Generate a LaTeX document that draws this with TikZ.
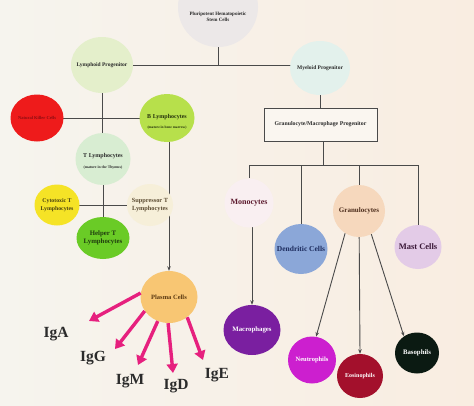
\documentclass[tikz,border=0pt]{standalone}
\usepackage{fontspec}
\setmainfont{Liberation Serif}
\usetikzlibrary{shapes.geometric,arrows.meta}
\pgfdeclarelayer{bg}
\pgfdeclarelayer{lines}
\pgfsetlayers{bg,lines,main}
\definecolor{linec}{HTML}{4A4A4A}
\definecolor{pinkc}{HTML}{E6207E}
\definecolor{igc}{HTML}{2B2B2B}
\definecolor{ink}{HTML}{2A2A2A}
\begin{document}
\begin{tikzpicture}[x=1pt,y=-1pt,
  cell/.style={ellipse, inner sep=0pt, draw=none},
  lab/.style={align=center, inner sep=0pt, text=ink},
  fs/.style={font=\bfseries\fontsize{#1}{#1}\selectfont},
  link/.style={draw=linec, line width=0.9pt},
  arr/.style={link, -{Stealth[length=4.5pt,width=3.5pt]}},
  pinkarr/.style={draw=pinkc, line width=3.4pt, -{Triangle[length=9pt,width=11pt]}},
  ig/.style={font=\bfseries\fontsize{15.5}{15.5}\selectfont, text=igc, inner sep=0pt}]
\useasboundingbox (0,0) rectangle (474,405);
\begin{pgfonlayer}{bg}
  \fill[left color={rgb,255:red,246;green,244;blue,238}, right color={rgb,255:red,249;green,237;blue,225}] (0,0) rectangle (474,405);
\end{pgfonlayer}

% top
\node[cell, fill={rgb,255:red,236;green,232;blue,232}, minimum width=80, minimum height=80] (stem) at (218,7) {};
\node[lab, fs=5] (stemtxt) at (218,17) {Pluripotent Hematopoietic\\[1pt]Stem Cells};
\node[cell, fill={rgb,255:red,228;green,239;blue,203}, minimum width=62, minimum height=56,
  label={[lab, fs=5.5]center:Lymphoid Progenitor}] (lymph) at (102,65) {};
\node[cell, fill={rgb,255:red,227;green,241;blue,236}, minimum width=60, minimum height=54,
  label={[lab, fs=5.5]center:Myeloid Progenitor}] (myel) at (320,68) {};
\node[draw=linec, line width=0.9pt, fill={rgb,255:red,250;green,246;blue,240}, minimum width=113, minimum height=33, inner sep=0pt, lab, fs=5.8] (gm) at (320.5,124.5) {Granulocyte/Macrophage Progenitor};

% myeloid branch
\coordinate (bus) at (323,165);
\node[cell, fill={rgb,255:red,249;green,239;blue,241}, minimum width=49, minimum height=49,
  label={[lab, fs=8, text={rgb,255:red,92;green,26;blue,46}]center:Monocytes}] (mono) at (249,203) {};
\node[cell, fill={rgb,255:red,139;green,167;blue,216}, minimum width=53, minimum height=50,
  label={[lab, fs=7.5, text={rgb,255:red,27;green,42;blue,92}]center:Dendritic Cells}] (dend) at (301,249) {};
\node[cell, fill={rgb,255:red,246;green,216;blue,189}, minimum width=52, minimum height=52,
  label={[lab, fs=7, text={rgb,255:red,75;green,43;blue,26}]center:Granulocytes}] (gran) at (359,211) {};
\node[cell, fill={rgb,255:red,227;green,203;blue,231}, minimum width=47, minimum height=44,
  label={[lab, fs=8.5, text={rgb,255:red,59;green,24;blue,56}]center:Mast Cells}] (mast) at (418,247) {};
\node[cell, fill={rgb,255:red,122;green,31;blue,160}, minimum width=57, minimum height=50,
  label={[lab, fs=6.8, text=white]center:Macrophages}] (macro) at (252,330) {};
\node[cell, fill={rgb,255:red,204;green,31;blue,207}, minimum width=48, minimum height=47,
  label={[lab, fs=6.5, text=white]center:Neutrophils}] (neut) at (312,360) {};
\node[cell, fill={rgb,255:red,163;green,16;blue,44}, minimum width=46, minimum height=44,
  label={[lab, fs=6, text=white]center:Eosinophils}] (eos) at (360,376) {};
\node[cell, fill={rgb,255:red,11;green,26;blue,18}, minimum width=44, minimum height=41,
  label={[lab, fs=6.8, text=white]center:Basophils}] (baso) at (417,353) {};

% lymphoid branch
\node[cell, fill={rgb,255:red,238;green,27;blue,27}, minimum width=53, minimum height=47,
  label={[lab, fs=4.5, text={rgb,255:red,140;green,13;blue,18}]center:Natural Killer Cells}] (nk) at (37,118) {};
\node[cell, fill={rgb,255:red,183;green,224;blue,75}, minimum width=55, minimum height=48,
  label={[lab, fs=6, yshift=-4pt, text={rgb,255:red,36;green,48;blue,12}]center:{B Lymphocytes\\[4pt]{\fontsize{3.6}{3.6}\selectfont (mature in bone marrow)}}}] (blym) at (167,118) {};
\node[cell, fill={rgb,255:red,216;green,237;blue,210}, minimum width=55, minimum height=52,
  label={[lab, fs=6, yshift=-2pt]center:{T Lymphocytes\\[5pt]{\fontsize{3.8}{3.8}\selectfont (mature in the Thymus)}}}] (tlym) at (103,159) {};
\node[cell, fill={rgb,255:red,245;green,227;blue,38}, minimum width=45, minimum height=41,
  label={[lab, fs=5.8, text={rgb,255:red,74;green,67;blue,16}]center:{Cytotoxic T\\[1.5pt]Lymphocytes}}] (cyto) at (57,205) {};
\node[cell, fill={rgb,255:red,246;green,239;blue,217}, minimum width=46, minimum height=42,
  label={[lab, fs=6.3, text={rgb,255:red,90;green,74;blue,48}]center:{Suppressor T\\[1.5pt]Lymphocytes}}] (supp) at (150,205) {};
\node[cell, fill={rgb,255:red,106;green,203;blue,38}, minimum width=53, minimum height=42,
  label={[lab, fs=6.8, text={rgb,255:red,30;green,58;blue,14}]center:{Helper T\\[1.5pt]Lymphocytes}}] (helper) at (103,238) {};
\node[cell, fill={rgb,255:red,248;green,198;blue,115}, minimum width=57, minimum height=52,
  label={[lab, fs=6.5, text={rgb,255:red,92;green,58;blue,18}]center:Plasma Cells}] (plasma) at (169,297) {};

% Ig labels and arrow tips
\node[ig] (iga) at (56,334) {IgA};
\node[ig] (igg) at (93,358) {IgG};
\node[ig] (igm) at (130,381) {IgM};
\node[ig] (igd) at (176,386) {IgD};
\node[ig] (ige) at (217,375) {IgE};
\coordinate (ta) at (89,321);
\coordinate (tg) at (115,349);
\coordinate (tm) at (138,365);
\coordinate (td) at (173,373);
\coordinate (te) at (203,360);

\begin{pgfonlayer}{lines}
  \draw[link] (stem.south) -- (stem.south |- lymph.east);
  \draw[link] (lymph.center) -- (lymph.center -| myel.center);
  \draw[link] (myel.center) -- (myel.center |- gm.north);
  \draw[link] (bus |- gm.south) -- (bus);
  \draw[link] (mono.north |- bus) -- (mast.north |- bus);
  \foreach \c in {mono,dend,gran,mast} \draw[link] (\c.north |- bus) -- (\c.north);
  \draw[arr] (macro.north |- mono.center) -- (macro.north);
  \draw[arr] (gran.238) -- (neut.80);
  \draw[arr] (gran.center) -- (eos.north);
  \draw[arr] (gran.298) -- (baso.128);
  \draw[link] (nk.center) -- (blym.center);
  \draw[link] (lymph.center) -- (lymph.center |- tlym.center);
  \draw[link] (cyto.center) -- (cyto.center -| supp.center);
  \draw[link] (tlym.center) -- (helper.center);
  \draw[arr] (plasma.north |- blym.center) -- (plasma.north);
\end{pgfonlayer}

\draw[pinkarr] (plasma.172) -- (ta);
\draw[pinkarr] (plasma.210) -- (tg);
\draw[pinkarr] (plasma.245) -- (tm);
\draw[pinkarr] (plasma.268) -- (td);
\draw[pinkarr] (plasma.312) -- (te);
\end{tikzpicture}
\end{document}
